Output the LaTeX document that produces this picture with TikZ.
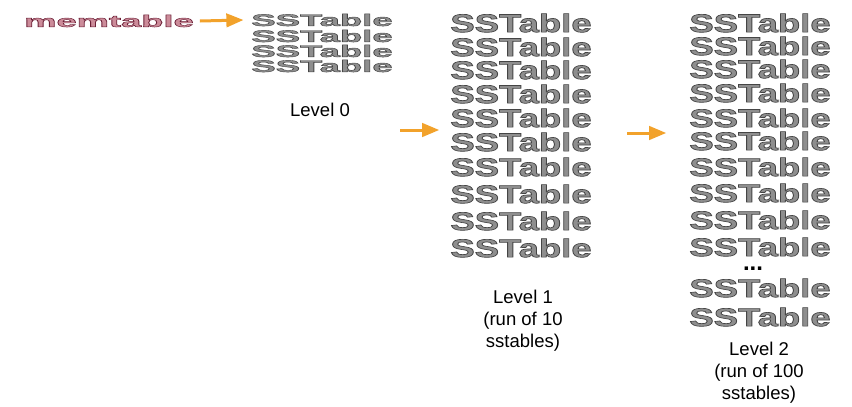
\documentclass[tikz,border=0pt]{standalone}
\usepackage{fontspec}
\setmainfont{Liberation Sans}
\newfontface\outlinefont{Liberation Sans Bold}[FakeBold=2.5]
\usetikzlibrary{arrows,positioning}

\definecolor{tablegray}{HTML}{8E8E8E}
\definecolor{memfill}{HTML}{CC8C9A}
\definecolor{flow}{HTML}{F2A22B}

% gray letters with a dark rim, pink letters with a maroon rim
\newcommand{\sstab}{\textcolor{tablegray}{\special{pdf:code 0.27 G}\outlinefont SSTable}}
\newcommand{\memtab}{\textcolor{memfill}{\special{pdf:code 0.42 0.12 0.21 RG}\outlinefont memtable}}

\begin{document}
\begin{tikzpicture}[x=1pt, y=-1pt,
    sst/.style={inner sep=0pt, font=\fontsize{25.5}{25.5}\selectfont},
    label/.style={align=center, inner sep=0pt, font=\fontsize{18.5}{22}\selectfont},
    arrow/.style={->, >=triangle 45, flow, line width=3pt}
]
    \useasboundingbox (0,0) rectangle (852,407);

    % memtable and level 0
    \node[inner sep=0pt, font=\fontsize{16.5}{16.5}\selectfont] (mem) at (109,21)
        {\scalebox{2.2}[1]{\memtab}};
    \foreach \i/\y in {1/20, 2/36, 3/51, 4/66}
        \node[sst] (l0-\i) at (322,\y) {\scalebox{1.43}[0.65]{\sstab}};
    \node[label] (lev0) at (320,110) {Level 0};

    % level 1
    \foreach \i/\y in {1/23, 2/47, 3/70, 4/94, 5/118, 6/142, 7/167, 8/194, 9/221, 10/248}
        \node[sst] (l1-\i) at (521,\y) {\scalebox{1.43}[1]{\sstab}};
    \node[label] (lev1) at (523,321) {Level 1\\(run of 10\\sstables)};

    % level 2
    \foreach \i/\y in {1/23, 2/46, 3/69, 4/93, 5/118, 6/141, 7/167, 8/193, 9/220, 10/247, 11/288, 12/317}
        \node[sst] (l2-\i) at (760,\y) {\scalebox{1.43}[1]{\sstab}};
    \node[inner sep=0pt, font=\bfseries\fontsize{12}{12}\selectfont] (dots) at (753,269)
        {\scalebox{2}{...}};
    \node[label] (lev2) at (759,373) {Level 2\\(run of 100\\sstables)};

    \coordinate (a2s) at (400,130);
    \coordinate (a2e) at (439,130);
    \coordinate (a3s) at (627,133);
    \coordinate (a3e) at (666,133);

    \draw[arrow] ([xshift=6pt]mem.east) -- ([xshift=-8pt]l0-1.west);
    \draw[arrow] (a2s) -- (a2e);
    \draw[arrow] (a3s) -- (a3e);
\end{tikzpicture}
\end{document}
